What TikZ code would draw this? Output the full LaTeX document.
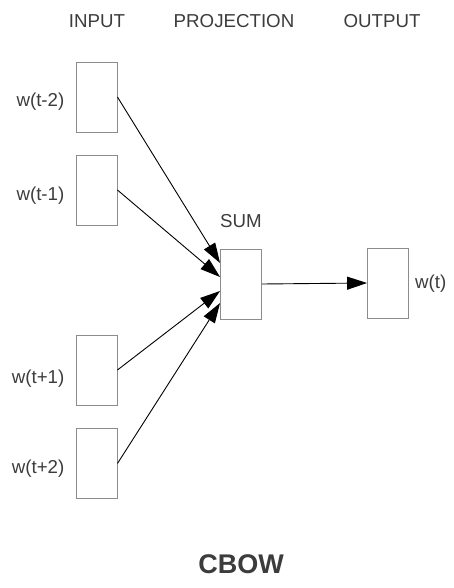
\documentclass[tikz,border=0pt]{standalone}
\usepackage{fontspec}
\setmainfont{Liberation Sans}
\usetikzlibrary{arrows.meta,positioning}
\definecolor{txtgray}{HTML}{3C3C3C}
\definecolor{boxgray}{HTML}{8C8C8C}
\tikzset{
  wordbox/.style={draw=boxgray, line width=0.9pt, minimum width=41pt, minimum height=70pt, inner sep=0pt},
  wlabel/.style={text=txtgray, font=\fontsize{18.7}{22}\selectfont, inner sep=0pt},
  heading/.style={wlabel, anchor=base},
  feed/.style={line width=0.9pt, -{Triangle[length=20pt,width=13pt]}}
}
\begin{document}
\begin{tikzpicture}[x=1pt, y=-1pt]
    \useasboundingbox (0,0) rectangle (454,588);

    \node[heading] (hin)   at ( 97,28) {INPUT};
    \node[heading] (hproj) at (234,28) {PROJECTION};
    \node[heading] (hout)  at (382,28) {OUTPUT};

    \node[wordbox] (in1) at (96.5, 97) {};
    \node[wordbox] (in2) at (96.5,190) {};
    \node[wordbox] (in3) at (96.5,370) {};
    \node[wordbox] (in4) at (96.5,463.5) {};
    \node[wordbox] (sum) at (241,284) {};
    \node[wordbox] (out) at (388,283) {};

    \node[wlabel, anchor=base east] (l1) at ([xshift=-11pt,yshift=-10pt]in1.west) {w(t-2)};
    \node[wlabel, anchor=base east] (l2) at ([xshift=-11pt,yshift=-10pt]in2.west) {w(t-1)};
    \node[wlabel, anchor=base east] (l3) at ([xshift=-11pt,yshift=-13pt]in3.west) {w(t+1)};
    \node[wlabel, anchor=base east] (l4) at ([xshift=-11pt,yshift=-10pt]in4.west) {w(t+2)};
    \node[heading] (lsum) at (241,227) {SUM};
    \node[wlabel, anchor=base west] (lout) at ([xshift=6pt,yshift=-5pt]out.east) {w(t)};

    \coordinate (s1) at ([yshift=21pt]sum.west);
    \coordinate (s2) at ([yshift=7pt]sum.west);
    \coordinate (s3) at ([yshift=-7pt]sum.west);
    \coordinate (s4) at ([yshift=-19pt]sum.west);

    \begin{scope}[every path/.style={feed}]
       \draw (in1.east) -- (s1);
       \draw (in2.east) -- (s2);
       \draw (in3.east) -- (s3);
       \draw (in4.east) -- (s4);
       \draw (sum.east) -- (out.west);
    \end{scope}

    \node[heading, font=\bfseries\fontsize{27}{32}\selectfont] (title) at (241,573) {CBOW};
\end{tikzpicture}
\end{document}
